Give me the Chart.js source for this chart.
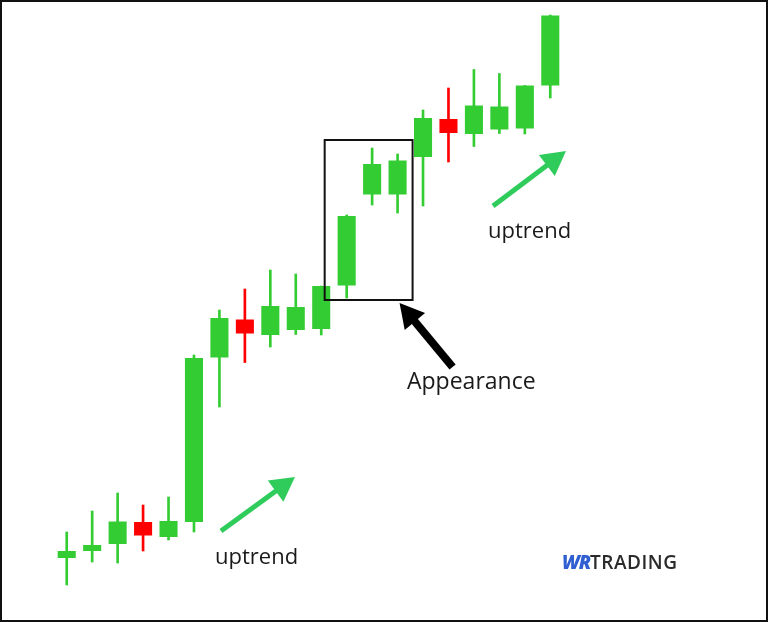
<!DOCTYPE html>
<html>
<head>
<meta charset="utf-8">
<title>Appearance - candlestick</title>
<script src="https://cdn.jsdelivr.net/npm/chart.js@4.4.1/dist/chart.umd.min.js"></script>
<style>
    body { margin: 0; background: #fff; }
    .wrap { position: relative; width: 768px; height: 622px; }
</style>
</head>
<body>
<div class="wrap">
    <canvas id="candles"></canvas>
</div>
<script>
// candles (arbitrary price units)
const days = ['1', '2', '3', '4', '5', '6', '7', '8', '9', '10',
    '11', '12', '13', '14', '15', '16', '17', '18', '19', '20'];
const opens  = [12.8, 14.2, 15.6, 20.0, 17.0, 20.0, 52.9, 60.5, 57.4, 58.4,
    58.6, 67.3, 85.5, 85.5, 93.0, 100.6, 97.6, 98.5, 98.7, 107.3];
const closes = [14.2, 15.4, 20.1, 17.3, 20.2, 52.8, 60.8, 57.7, 63.2, 63.0,
    67.2, 81.2, 91.6, 92.3, 100.8, 97.8, 103.3, 103.1, 107.3, 121.3];
const highs  = [18.0, 22.2, 25.8, 23.4, 25.0, 53.4, 62.4, 66.6, 70.4, 69.6,
    67.2, 81.4, 94.8, 93.6, 102.4, 106.8, 110.5, 109.7, 107.3, 121.4];
const lows   = [7.4, 12.0, 11.8, 14.2, 16.4, 18.0, 43.0, 51.9, 55.0, 57.5,
    57.4, 64.8, 83.4, 81.8, 83.2, 92.0, 95.1, 97.7, 97.6, 104.8];

const boxFrom = 11; // candles boxed as the "Appearance"
const boxTo = 13;

const upColor = '#33cc33';
const downColor = '#ff0000';
const arrowGreen = '#2fcc5c';

const colorOf = (i) => closes[i] >= opens[i] ? upColor : downColor;

function arrow(ctx, x1, y1, x2, y2, width, head, color) {
    const a = Math.atan2(y2 - y1, x2 - x1);
    const bx = x2 - head * Math.cos(a);
    const by = y2 - head * Math.sin(a);
    ctx.save();
    ctx.strokeStyle = color;
    ctx.fillStyle = color;
    ctx.lineWidth = width;
    ctx.lineCap = 'butt';
    ctx.beginPath();
    ctx.moveTo(x1, y1);
    ctx.lineTo(bx + 2 * Math.cos(a), by + 2 * Math.sin(a));
    ctx.stroke();
    const w = head * 0.55;
    ctx.beginPath();
    ctx.moveTo(x2, y2);
    ctx.lineTo(bx + w * Math.sin(a), by - w * Math.cos(a));
    ctx.lineTo(bx - w * Math.sin(a), by + w * Math.cos(a));
    ctx.closePath();
    ctx.fill();
    ctx.restore();
}

const annotations = {
    id: 'annotations',
    afterDraw(chart) {
        const ctx = chart.ctx;
        const x = chart.scales.x;
        const y = chart.scales.y;

        // box round the three candles
        const hi = Math.max(...highs.slice(boxFrom, boxTo + 1));
        const lo = Math.min(...lows.slice(boxFrom, boxTo + 1));
        const left = x.getPixelForValue(boxFrom) - 22;
        const right = x.getPixelForValue(boxTo) + 15;
        const top = y.getPixelForValue(hi) - 8;
        const bottom = y.getPixelForValue(lo) + 2;
        ctx.save();
        ctx.strokeStyle = '#111';
        ctx.lineWidth = 2;
        ctx.strokeRect(left, top, right - left, bottom - top);
        ctx.restore();

        arrow(ctx, right + 40, bottom + 67, right - 13, bottom + 3, 8, 24, '#000');
        arrow(ctx, 221, 531, 295, 477, 5, 24, arrowGreen);
        arrow(ctx, 493, 206, 566, 151, 5, 24, arrowGreen);

        ctx.save();
        ctx.fillStyle = '#1a1a1a';
        ctx.textBaseline = 'alphabetic';
        ctx.font = '23px "Open Sans"';
        ctx.fillText('Appearance', 407, 389);
        ctx.font = '22px "Open Sans"';
        ctx.fillText('uptrend', 215, 564);
        ctx.fillText('uptrend', 488, 238);

        // logo
        ctx.font = 'italic 800 19px "Open Sans"';
        ctx.fillStyle = '#2f5fd0';
        ctx.letterSpacing = '-1px';
        ctx.fillText('WR', 562, 569);
        const wr = ctx.measureText('WR').width;
        ctx.font = '600 19px "Open Sans"';
        ctx.fillStyle = '#2a2a2a';
        ctx.letterSpacing = '0.5px';
        ctx.fillText('TRADING', 562 + wr, 569);
        ctx.restore();

        // frame
        ctx.save();
        ctx.strokeStyle = '#111';
        ctx.lineWidth = 2;
        ctx.strokeRect(1, 1, chart.width - 2, chart.height - 2);
        ctx.restore();
    }
};

const ctx = document.getElementById('candles').getContext('2d');
new Chart(ctx, {
    type: 'bar',
    data: {
        labels: days,
        datasets: [
            {
                label: 'body',
                data: opens.map((o, i) => [o, closes[i]]),
                backgroundColor: days.map((d, i) => colorOf(i)),
                barPercentage: 0.71,
                categoryPercentage: 1,
                grouped: false,
                order: 0
            },
            {
                label: 'wick',
                data: lows.map((l, i) => [l, highs[i]]),
                backgroundColor: days.map((d, i) => colorOf(i)),
                barThickness: 2,
                grouped: false,
                order: 1
            }
        ]
    },
    options: {
        responsive: true,
        maintainAspectRatio: false,
        animation: false,
        layout: { padding: { left: 54, right: 205, top: 0, bottom: 0 } },
        plugins: {
            legend: { display: false },
            tooltip: { enabled: false }
        },
        scales: {
            x: { display: false },
            y: { display: false, min: 0, max: 124.4 }
        }
    },
    plugins: [annotations]
});
</script>
</body>
</html>
